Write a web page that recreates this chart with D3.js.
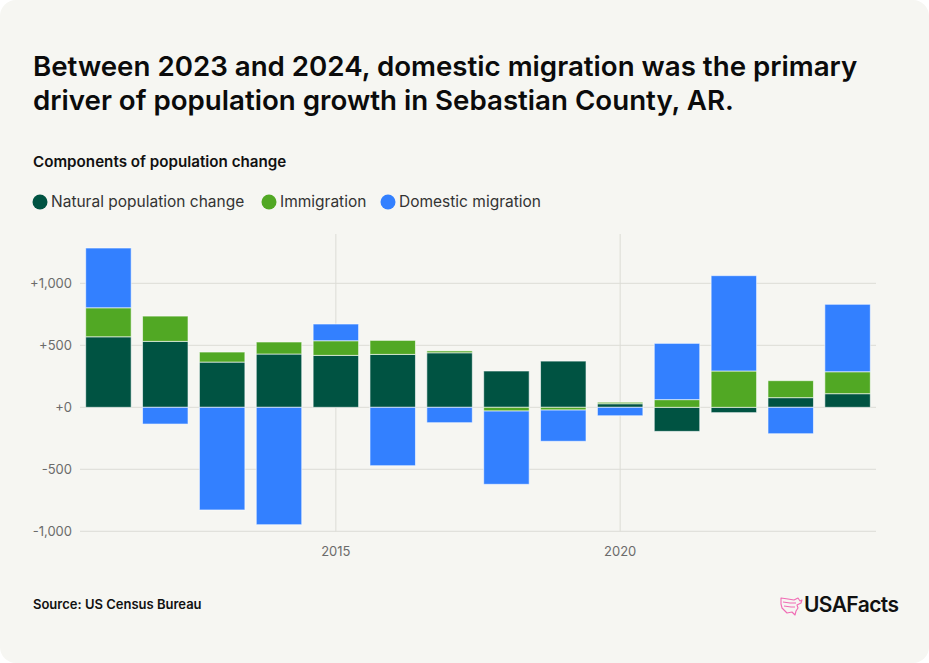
<!DOCTYPE html>
<html>
<head>
<meta charset="utf-8">
<script src="https://cdn.jsdelivr.net/npm/d3@7"></script>
<style>
  html, body { margin: 0; padding: 0; background: #ffffff; }
  svg { display: block; font-family: Inter, "Noto Sans", sans-serif; }
</style>
</head>
<body>
<svg id="chart" width="929" height="663"></svg>
<script>
// data
const years = [2011, 2012, 2013, 2014, 2015, 2016, 2017, 2018, 2019, 2020, 2021, 2022, 2023, 2024];
const natural = [569, 532, 365, 430, 419, 427, 440, 293, 373, 29, -194, -43, 78, 110];
const immigration = [234, 204, 81, 97, 118, 113, 15, -30, -22, 12, 62, 293, 137, 177];
const domestic = [482, -135, -828, -947, 135, -471, -124, -591, -252, -68, 454, 769, -213, 544];
const seriesNames = ["Natural population change", "Immigration", "Domestic migration"];
const yTicks = [-1000, -500, 0, 500, 1000];
const xTickYears = [2015, 2020];

const colors = d3.scaleOrdinal()
  .domain(["natural", "immigration", "domestic"])
  .range(["#005342", "#51a824", "#3380ff"]);

const svg = d3.select("#chart");
const width = +svg.attr("width");
const height = +svg.attr("height");

// card background
svg.append("rect")
  .attr("width", width)
  .attr("height", height)
  .attr("rx", 16)
  .attr("fill", "#f6f6f2");

// title
const title = svg.append("text")
  .attr("x", 33)
  .attr("y", 76)
  .attr("font-size", 27.7)
  .attr("font-weight", 600)
  .attr("fill", "#0b0b0b");
title.append("tspan").attr("x", 33).text("Between 2023 and 2024, domestic migration was the primary");
title.append("tspan").attr("x", 33).attr("dy", 34).text("driver of population growth in Sebastian County, AR.");

svg.append("text")
  .attr("x", 33)
  .attr("y", 167)
  .attr("font-size", 15.2)
  .attr("font-weight", 600)
  .attr("fill", "#111")
  .text("Components of population change");

// legend
const legendX = [40, 269, 388];
const legend = svg.append("g")
  .selectAll("g")
  .data(seriesNames)
  .enter()
  .append("g")
  .attr("transform", (d, i) => "translate(" + legendX[i] + ",202)");
legend.append("circle")
  .attr("r", 7.5)
  .attr("fill", (d, i) => colors.range()[i]);
legend.append("text")
  .attr("x", 11)
  .attr("y", 5)
  .attr("font-size", 15.5)
  .attr("fill", "#333")
  .text((d) => d);

// chart area
const x0 = 80, x1 = 876, yTop = 234, yBottom = 531.3;

const x = d3.scaleBand()
  .domain(years)
  .range([x0, x1])
  .paddingInner(0.2)
  .paddingOuter(0.1);

const y = d3.scaleLinear()
  .domain([-1000, 1398])
  .range([yBottom, yTop]);

// gridlines
svg.append("g")
  .selectAll("line")
  .data(yTicks)
  .enter()
  .append("line")
  .attr("x1", x0)
  .attr("x2", x1)
  .attr("y1", (d) => y(d))
  .attr("y2", (d) => y(d))
  .attr("stroke", "#dcdcd6")
  .attr("stroke-width", 1);

svg.append("g")
  .selectAll("line")
  .data(xTickYears)
  .enter()
  .append("line")
  .attr("x1", (d) => x(d) + x.bandwidth() / 2)
  .attr("x2", (d) => x(d) + x.bandwidth() / 2)
  .attr("y1", yTop)
  .attr("y2", yBottom)
  .attr("stroke", "#dcdcd6")
  .attr("stroke-width", 1);

// y axis labels
const fmt = d3.format(",");
svg.append("g")
  .selectAll("text")
  .data(yTicks)
  .enter()
  .append("text")
  .attr("x", 72)
  .attr("y", (d) => y(d) + 4.5)
  .attr("text-anchor", "end")
  .attr("font-size", 13)
  .attr("fill", "#6b6b6b")
  .text((d) => (d < 0 ? "-" + fmt(-d) : "+" + fmt(d)));

// x axis labels
svg.append("g")
  .selectAll("text")
  .data(xTickYears)
  .enter()
  .append("text")
  .attr("x", (d) => x(d) + x.bandwidth() / 2)
  .attr("y", 556)
  .attr("text-anchor", "middle")
  .attr("font-size", 13)
  .attr("fill", "#6b6b6b")
  .text((d) => d);

// stacked bars
const table = years.map((yr, i) => ({
  year: yr,
  natural: natural[i],
  immigration: immigration[i],
  domestic: domestic[i],
}));

const stacked = d3.stack()
  .keys(["natural", "immigration", "domestic"])
  .offset(d3.stackOffsetDiverging)(table);

svg.append("g")
  .selectAll("g")
  .data(stacked)
  .enter()
  .append("g")
  .attr("fill", (d) => colors(d.key))
  .selectAll("rect")
  .data((d) => d)
  .enter()
  .append("rect")
  .attr("x", (d) => x(d.data.year))
  .attr("width", x.bandwidth())
  .attr("y", (d) => y(Math.max(d[0], d[1])))
  .attr("height", (d) => Math.abs(y(d[0]) - y(d[1])))
  .attr("stroke", "#ffffff")
  .attr("stroke-opacity", 0.6)
  .attr("stroke-width", 1);

// footer
svg.append("text")
  .attr("x", 33)
  .attr("y", 609)
  .attr("font-size", 13)
  .attr("font-weight", 600)
  .attr("fill", "#111")
  .text("Source: US Census Bureau");

// logo
const logo = svg.append("g").attr("transform", "translate(780,596)");
logo.append("path")
  .attr("d", "M1,2 L8,3 L14,4 L18,2 L20,5 L22,4 L21,7 L17,9 L18,12 L16,15 L15,19 L12,16 L7,17 L5,15 L2,12 L1,8 Z M3,6 L10,7 L16,7 M4,10 L11,11 L15,11")
  .attr("fill", "none")
  .attr("stroke", "#f06bb4")
  .attr("stroke-width", 1.1)
  .attr("stroke-linejoin", "round");
svg.append("text")
  .attr("x", 804)
  .attr("y", 612)
  .attr("font-size", 21)
  .attr("font-weight", 600)
  .attr("fill", "#111")
  .attr("letter-spacing", -0.6)
  .text("USAFacts");
</script>
</body>
</html>
